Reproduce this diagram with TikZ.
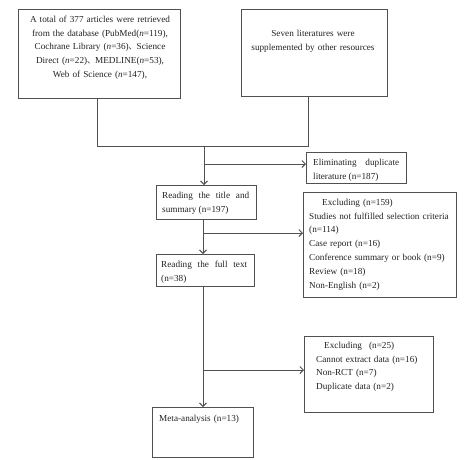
\documentclass[tikz,border=0pt]{standalone}
\usepackage{fontspec}
\setmainfont{Liberation Serif}
\newfontfamily\cjk{Noto Sans CJK SC}
\usetikzlibrary{arrows.meta}
\definecolor{ln}{HTML}{505050}
\definecolor{tx}{HTML}{222222}
\tikzset{
  box/.style={draw=ln, line width=0.9pt, rectangle, anchor=north west, inner sep=0pt},
  txt/.style={anchor=north west, inner sep=0pt, text=tx, font=\fontsize{9.2}{13.8}\selectfont, execute at begin node=\strut},
  arr/.style={draw=ln, line width=0.9pt, -{Straight Barb[length=3.5pt,width=7pt]}},
  ln/.style={draw=ln, line width=0.9pt}
}
\newcommand{\dun}{{\cjk\fontsize{8}{8}\selectfont 、}}
\begin{document}
\begin{tikzpicture}[x=1pt,y=-1pt]
\useasboundingbox (0,0) rectangle (474,459);
% boxes
\node[box, minimum width=162pt, minimum height=89pt] (b1) at (18,9) {};
\node[box, minimum width=146pt, minimum height=87pt] (b2) at (241,9) {};
\node[box, minimum width=100pt, minimum height=31pt] (elim) at (306,152) {};
\node[box, minimum width=100pt, minimum height=34pt] (read) at (156,185) {};
\node[box, minimum width=153pt, minimum height=105pt] (excl1) at (303,192) {};
\node[box, minimum width=98pt, minimum height=32pt] (full) at (156,254) {};
\node[box, minimum width=129pt, minimum height=76pt] (excl2) at (304,336) {};
\node[box, minimum width=101pt, minimum height=50pt] (meta) at (152,407) {};
% texts
\node[txt, anchor=north, align=center, text width=160pt] (t1) at (100,12.4) {A total of 377 articles were retrieved\\ from the database (PubMed(\textit{n}=119),\\ Cochrane Library (\textit{n}=36)\dun Science\\ Direct (\textit{n}=22)\dun MEDLINE(\textit{n}=53),\\ Web of Science (\textit{n}=147),};
\node[txt, anchor=north, align=center, text width=144pt] (t2) at (313,26.4) {Seven literatures were\\ supplemented by other resources};
\node[txt, align=justify, text width=86pt] (t3) at (313,155.4) {Eliminating duplicate\linebreak literature (n=187)};
\node[txt, align=justify, text width=87pt] (t4) at (162,189) {Reading the title and\linebreak summary (n=197)};
\node[txt, align=left, text width=148pt] (t5) at (309,195.4) {\hspace*{13pt}Excluding (n=159)\\ Studies not fulfilled selection criteria\\ (n=114)\\ Case report (n=16)\\ Conference summary or book (n=9)\\ Review (n=18)\\ Non-English (n=2)};
\node[txt, align=justify, text width=86pt] (t6) at (161,257.4) {Reading the full text\linebreak (n=38)};
\node[txt, align=left, text width=115pt] (t7) at (316,338.4) {\hspace*{8pt}Excluding\hspace{4pt} (n=25)\\ Cannot extract data (n=16)\\ Non-RCT (n=7)\\ Duplicate data (n=2)};
\node[txt, align=left, text width=95pt] (t8) at (159,411.4) {Meta-analysis (n=13)};
% connectors
\coordinate (j1) at (97,146);
\coordinate (j2) at (308,146);
\coordinate (j3) at (204,146);
\coordinate (k1) at (204,164);
\coordinate (k2) at (203,233);
\coordinate (k3) at (203,370);
\draw[ln] (b1.south -| j1) -- (j1) -- (j2) -- (b2.south -| j2);
\draw[arr] (j3) -- (read.north -| j3);
\draw[arr] (k1) -- (k1 -| elim.west);
\draw[arr] (read.south -| k2) -- (full.north -| k2);
\draw[arr] (k2) -- (k2 -| excl1.west);
\draw[arr] (full.south -| k3) -- (meta.north -| k3);
\draw[arr] (k3) -- (k3 -| excl2.west);
\end{tikzpicture}
\end{document}
